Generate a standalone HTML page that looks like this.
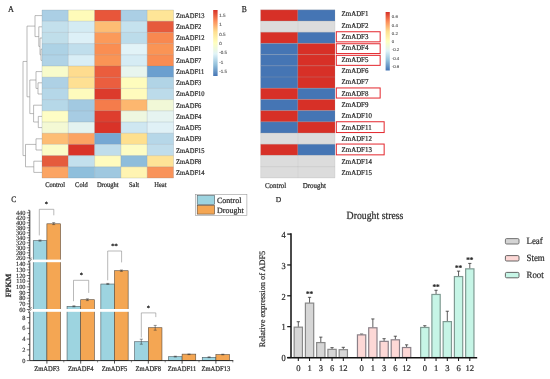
<!DOCTYPE html>
<html><head><meta charset="utf-8"><title>Figure</title><style>
html,body{margin:0;padding:0;background:#fff;}
body{width:550px;height:379px;overflow:hidden;}
svg{display:block;will-change:transform;font-family:"Liberation Serif", serif;fill:#1a1a1a;}
text{text-rendering:geometricPrecision;}
svg{filter:blur(0.4px);}
</style></head><body>
<svg width="550" height="379" viewBox="0 0 550 379">
<rect width="550" height="379" fill="#fff"/>
<rect x="42.00" y="10.00" width="26.35" height="11.25" fill="#abcfe5"/>
<rect x="68.30" y="10.00" width="26.35" height="11.25" fill="#fefbb9"/>
<rect x="94.60" y="10.00" width="26.35" height="11.25" fill="#e8563a"/>
<rect x="120.90" y="10.00" width="26.35" height="11.25" fill="#abcfe5"/>
<rect x="147.20" y="10.00" width="26.35" height="11.25" fill="#fee597"/>
<rect x="42.00" y="21.20" width="26.35" height="11.25" fill="#c3e0ec"/>
<rect x="68.30" y="21.20" width="26.35" height="11.25" fill="#d4ebf3"/>
<rect x="94.60" y="21.20" width="26.35" height="11.25" fill="#fdbd74"/>
<rect x="120.90" y="21.20" width="26.35" height="11.25" fill="#c5e2ee"/>
<rect x="147.20" y="21.20" width="26.35" height="11.25" fill="#e65a3c"/>
<rect x="42.00" y="32.40" width="26.35" height="11.25" fill="#c0deea"/>
<rect x="68.30" y="32.40" width="26.35" height="11.25" fill="#ddf0f7"/>
<rect x="94.60" y="32.40" width="26.35" height="11.25" fill="#fb9a5a"/>
<rect x="120.90" y="32.40" width="26.35" height="11.25" fill="#bcdcea"/>
<rect x="147.20" y="32.40" width="26.35" height="11.25" fill="#f88850"/>
<rect x="42.00" y="43.60" width="26.35" height="11.25" fill="#add2e5"/>
<rect x="68.30" y="43.60" width="26.35" height="11.25" fill="#c0deec"/>
<rect x="94.60" y="43.60" width="26.35" height="11.25" fill="#fa8e52"/>
<rect x="120.90" y="43.60" width="26.35" height="11.25" fill="#e2f3f7"/>
<rect x="147.20" y="43.60" width="26.35" height="11.25" fill="#fa9455"/>
<rect x="42.00" y="54.80" width="26.35" height="11.25" fill="#b0d3e6"/>
<rect x="68.30" y="54.80" width="26.35" height="11.25" fill="#d9eef6"/>
<rect x="94.60" y="54.80" width="26.35" height="11.25" fill="#fa9455"/>
<rect x="120.90" y="54.80" width="26.35" height="11.25" fill="#d6ecf4"/>
<rect x="147.20" y="54.80" width="26.35" height="11.25" fill="#f98c52"/>
<rect x="42.00" y="66.00" width="26.35" height="11.25" fill="#f8fbcb"/>
<rect x="68.30" y="66.00" width="26.35" height="11.25" fill="#fedc8f"/>
<rect x="94.60" y="66.00" width="26.35" height="11.25" fill="#ea5d3d"/>
<rect x="120.90" y="66.00" width="26.35" height="11.25" fill="#e8f5ee"/>
<rect x="147.20" y="66.00" width="26.35" height="11.25" fill="#6b9fcf"/>
<rect x="42.00" y="77.20" width="26.35" height="11.25" fill="#aed1e5"/>
<rect x="68.30" y="77.20" width="26.35" height="11.25" fill="#fee093"/>
<rect x="94.60" y="77.20" width="26.35" height="11.25" fill="#eb5e3f"/>
<rect x="120.90" y="77.20" width="26.35" height="11.25" fill="#fefcbd"/>
<rect x="147.20" y="77.20" width="26.35" height="11.25" fill="#b1d4e6"/>
<rect x="42.00" y="88.40" width="26.35" height="11.25" fill="#b5d7e8"/>
<rect x="68.30" y="88.40" width="26.35" height="11.25" fill="#fefbbd"/>
<rect x="94.60" y="88.40" width="26.35" height="11.25" fill="#dc3b2c"/>
<rect x="120.90" y="88.40" width="26.35" height="11.25" fill="#fffbbd"/>
<rect x="147.20" y="88.40" width="26.35" height="11.25" fill="#bcdbea"/>
<rect x="42.00" y="99.60" width="26.35" height="11.25" fill="#b6d8e8"/>
<rect x="68.30" y="99.60" width="26.35" height="11.25" fill="#a2c9e1"/>
<rect x="94.60" y="99.60" width="26.35" height="11.25" fill="#f57c4b"/>
<rect x="120.90" y="99.60" width="26.35" height="11.25" fill="#fdb76f"/>
<rect x="147.20" y="99.60" width="26.35" height="11.25" fill="#f1f8d7"/>
<rect x="42.00" y="110.80" width="26.35" height="11.25" fill="#fefdc5"/>
<rect x="68.30" y="110.80" width="26.35" height="11.25" fill="#a7cce3"/>
<rect x="94.60" y="110.80" width="26.35" height="11.25" fill="#de3e2e"/>
<rect x="120.90" y="110.80" width="26.35" height="11.25" fill="#eef7e0"/>
<rect x="147.20" y="110.80" width="26.35" height="11.25" fill="#e6f4f1"/>
<rect x="42.00" y="122.00" width="26.35" height="11.25" fill="#f4f9d4"/>
<rect x="68.30" y="122.00" width="26.35" height="11.25" fill="#e4f3f0"/>
<rect x="94.60" y="122.00" width="26.35" height="11.25" fill="#d93328"/>
<rect x="120.90" y="122.00" width="26.35" height="11.25" fill="#cfe7f1"/>
<rect x="147.20" y="122.00" width="26.35" height="11.25" fill="#e0f1f6"/>
<rect x="42.00" y="133.20" width="26.35" height="11.25" fill="#fdbd74"/>
<rect x="68.30" y="133.20" width="26.35" height="11.25" fill="#fba363"/>
<rect x="94.60" y="133.20" width="26.35" height="11.25" fill="#76a8d3"/>
<rect x="120.90" y="133.20" width="26.35" height="11.25" fill="#fee08f"/>
<rect x="147.20" y="133.20" width="26.35" height="11.25" fill="#b6d7e8"/>
<rect x="42.00" y="144.40" width="26.35" height="11.25" fill="#fbfcc7"/>
<rect x="68.30" y="144.40" width="26.35" height="11.25" fill="#d93328"/>
<rect x="94.60" y="144.40" width="26.35" height="11.25" fill="#c0ddeb"/>
<rect x="120.90" y="144.40" width="26.35" height="11.25" fill="#fdfcc4"/>
<rect x="147.20" y="144.40" width="26.35" height="11.25" fill="#c0ddeb"/>
<rect x="42.00" y="155.60" width="26.35" height="11.25" fill="#e55b3d"/>
<rect x="68.30" y="155.60" width="26.35" height="11.25" fill="#c3e0ed"/>
<rect x="94.60" y="155.60" width="26.35" height="11.25" fill="#fffbbe"/>
<rect x="120.90" y="155.60" width="26.35" height="11.25" fill="#8ebddb"/>
<rect x="147.20" y="155.60" width="26.35" height="11.25" fill="#fee397"/>
<rect x="42.00" y="166.80" width="26.35" height="11.25" fill="#fba463"/>
<rect x="68.30" y="166.80" width="26.35" height="11.25" fill="#8fbfdc"/>
<rect x="94.60" y="166.80" width="26.35" height="11.25" fill="#9fc8e0"/>
<rect x="120.90" y="166.80" width="26.35" height="11.25" fill="#fff4b2"/>
<rect x="147.20" y="166.80" width="26.35" height="11.25" fill="#f9935a"/>
<path d="M42.00 10.00H173.50M42.00 21.20H173.50M42.00 32.40H173.50M42.00 43.60H173.50M42.00 54.80H173.50M42.00 66.00H173.50M42.00 77.20H173.50M42.00 88.40H173.50M42.00 99.60H173.50M42.00 110.80H173.50M42.00 122.00H173.50M42.00 133.20H173.50M42.00 144.40H173.50M42.00 155.60H173.50M42.00 166.80H173.50M42.00 178.00H173.50M42.00 10.00V178.00M68.30 10.00V178.00M94.60 10.00V178.00M120.90 10.00V178.00M147.20 10.00V178.00M173.50 10.00V178.00" stroke="#6f7f8a" stroke-opacity="0.35" stroke-width="0.6" fill="none"/>
<text transform="translate(176.00 17.80) scale(1.0 1.1)" font-size="6.5" fill="#2e2e2e" stroke="#2e2e2e" stroke-width="0.22">ZmADF13</text>
<text transform="translate(176.00 29.03) scale(1.0 1.1)" font-size="6.5" fill="#2e2e2e" stroke="#2e2e2e" stroke-width="0.22">ZmADF2</text>
<text transform="translate(176.00 40.26) scale(1.0 1.1)" font-size="6.5" fill="#2e2e2e" stroke="#2e2e2e" stroke-width="0.22">ZmADF12</text>
<text transform="translate(176.00 51.49) scale(1.0 1.1)" font-size="6.5" fill="#2e2e2e" stroke="#2e2e2e" stroke-width="0.22">ZmADF1</text>
<text transform="translate(176.00 62.72) scale(1.0 1.1)" font-size="6.5" fill="#2e2e2e" stroke="#2e2e2e" stroke-width="0.22">ZmADF7</text>
<text transform="translate(176.00 73.95) scale(1.0 1.1)" font-size="6.5" fill="#2e2e2e" stroke="#2e2e2e" stroke-width="0.22">ZmADF11</text>
<text transform="translate(176.00 85.18) scale(1.0 1.1)" font-size="6.5" fill="#2e2e2e" stroke="#2e2e2e" stroke-width="0.22">ZmADF3</text>
<text transform="translate(176.00 96.41) scale(1.0 1.1)" font-size="6.5" fill="#2e2e2e" stroke="#2e2e2e" stroke-width="0.22">ZmADF10</text>
<text transform="translate(176.00 107.64) scale(1.0 1.1)" font-size="6.5" fill="#2e2e2e" stroke="#2e2e2e" stroke-width="0.22">ZmADF6</text>
<text transform="translate(176.00 118.87) scale(1.0 1.1)" font-size="6.5" fill="#2e2e2e" stroke="#2e2e2e" stroke-width="0.22">ZmADF4</text>
<text transform="translate(176.00 130.10) scale(1.0 1.1)" font-size="6.5" fill="#2e2e2e" stroke="#2e2e2e" stroke-width="0.22">ZmADF5</text>
<text transform="translate(176.00 141.33) scale(1.0 1.1)" font-size="6.5" fill="#2e2e2e" stroke="#2e2e2e" stroke-width="0.22">ZmADF9</text>
<text transform="translate(176.00 152.56) scale(1.0 1.1)" font-size="6.5" fill="#2e2e2e" stroke="#2e2e2e" stroke-width="0.22">ZmADF15</text>
<text transform="translate(176.00 163.79) scale(1.0 1.1)" font-size="6.5" fill="#2e2e2e" stroke="#2e2e2e" stroke-width="0.22">ZmADF8</text>
<text transform="translate(176.00 175.02) scale(1.0 1.1)" font-size="6.5" fill="#2e2e2e" stroke="#2e2e2e" stroke-width="0.22">ZmADF14</text>
<text transform="translate(55.15 187.30) scale(1.0 1.1)" font-size="6.5" fill="#2e2e2e" stroke="#2e2e2e" stroke-width="0.22" text-anchor="middle">Control</text>
<text transform="translate(81.45 187.30) scale(1.0 1.1)" font-size="6.5" fill="#2e2e2e" stroke="#2e2e2e" stroke-width="0.22" text-anchor="middle">Cold</text>
<text transform="translate(107.75 187.30) scale(1.0 1.1)" font-size="6.5" fill="#2e2e2e" stroke="#2e2e2e" stroke-width="0.22" text-anchor="middle">Drought</text>
<text transform="translate(134.05 187.30) scale(1.0 1.1)" font-size="6.5" fill="#2e2e2e" stroke="#2e2e2e" stroke-width="0.22" text-anchor="middle">Salt</text>
<text transform="translate(160.35 187.30) scale(1.0 1.1)" font-size="6.5" fill="#2e2e2e" stroke="#2e2e2e" stroke-width="0.22" text-anchor="middle">Heat</text>
<path d="M42.00 49.20H41.00V60.40H42.00 M42.00 38.00H40.00V54.80H41.00 M42.00 26.80H38.80V46.40H40.00 M42.00 15.60H35.00V36.60H38.80 M42.00 82.80H38.00V94.00H42.00 M42.00 71.60H36.00V88.40H38.00 M42.00 116.40H38.30V127.60H42.00 M42.00 105.20H33.60V122.00H38.30 M36.00 80.00H29.80V113.60H33.60 M35.00 26.10H27.00V96.80H29.80 M42.00 138.80H36.00V150.00H42.00 M42.00 161.20H33.80V172.40H42.00 M36.00 144.40H25.50V166.80H33.80 M27.00 61.45H23.00V155.60H25.50" fill="none" stroke="#8c8c8c" stroke-width="0.6"/>
<defs><linearGradient id="gA" x1="0" y1="0" x2="0" y2="1"><stop offset="0" stop-color="#d73027"/><stop offset="0.1667" stop-color="#fc8d59"/><stop offset="0.3333" stop-color="#fee090"/><stop offset="0.5" stop-color="#ffffbf"/><stop offset="0.6667" stop-color="#e0f3f8"/><stop offset="0.8333" stop-color="#91bfdb"/><stop offset="1" stop-color="#4575b4"/></linearGradient><linearGradient id="gB" x1="0" y1="0" x2="0" y2="1"><stop offset="0" stop-color="#d73027"/><stop offset="0.1667" stop-color="#fc8d59"/><stop offset="0.3333" stop-color="#fee090"/><stop offset="0.5" stop-color="#ffffbf"/><stop offset="0.6667" stop-color="#e0f3f8"/><stop offset="0.8333" stop-color="#91bfdb"/><stop offset="1" stop-color="#4575b4"/></linearGradient></defs>
<rect x="213.2" y="10" width="4.4" height="66" fill="url(#gA)"/>
<text x="219.20" y="17.00" font-size="4.5" fill="#555" stroke="#555" stroke-width="0.12" font-family='"Liberation Sans", sans-serif'>1.5</text>
<text x="219.20" y="26.30" font-size="4.5" fill="#555" stroke="#555" stroke-width="0.12" font-family='"Liberation Sans", sans-serif'>1</text>
<text x="219.20" y="35.60" font-size="4.5" fill="#555" stroke="#555" stroke-width="0.12" font-family='"Liberation Sans", sans-serif'>0.5</text>
<text x="219.20" y="44.90" font-size="4.5" fill="#555" stroke="#555" stroke-width="0.12" font-family='"Liberation Sans", sans-serif'>0</text>
<text x="219.20" y="54.20" font-size="4.5" fill="#555" stroke="#555" stroke-width="0.12" font-family='"Liberation Sans", sans-serif'>-0.5</text>
<text x="219.20" y="63.50" font-size="4.5" fill="#555" stroke="#555" stroke-width="0.12" font-family='"Liberation Sans", sans-serif'>-1</text>
<text x="219.20" y="72.80" font-size="4.5" fill="#555" stroke="#555" stroke-width="0.12" font-family='"Liberation Sans", sans-serif'>-1.5</text>
<rect x="260.60" y="9.80" width="37.25" height="11.25" fill="#d73027"/>
<rect x="297.80" y="9.80" width="37.20" height="11.25" fill="#4575b4"/>
<rect x="260.60" y="21.00" width="37.25" height="11.25" fill="#dcdcdc"/>
<rect x="297.80" y="21.00" width="37.20" height="11.25" fill="#dcdcdc"/>
<rect x="260.60" y="32.20" width="37.25" height="11.25" fill="#d73027"/>
<rect x="297.80" y="32.20" width="37.20" height="11.25" fill="#4575b4"/>
<rect x="260.60" y="43.40" width="37.25" height="11.25" fill="#4575b4"/>
<rect x="297.80" y="43.40" width="37.20" height="11.25" fill="#d73027"/>
<rect x="260.60" y="54.60" width="37.25" height="11.25" fill="#4575b4"/>
<rect x="297.80" y="54.60" width="37.20" height="11.25" fill="#d73027"/>
<rect x="260.60" y="65.80" width="37.25" height="11.25" fill="#4575b4"/>
<rect x="297.80" y="65.80" width="37.20" height="11.25" fill="#d73027"/>
<rect x="260.60" y="77.00" width="37.25" height="11.25" fill="#4575b4"/>
<rect x="297.80" y="77.00" width="37.20" height="11.25" fill="#d73027"/>
<rect x="260.60" y="88.20" width="37.25" height="11.25" fill="#d73027"/>
<rect x="297.80" y="88.20" width="37.20" height="11.25" fill="#4575b4"/>
<rect x="260.60" y="99.40" width="37.25" height="11.25" fill="#4575b4"/>
<rect x="297.80" y="99.40" width="37.20" height="11.25" fill="#d73027"/>
<rect x="260.60" y="110.60" width="37.25" height="11.25" fill="#d73027"/>
<rect x="297.80" y="110.60" width="37.20" height="11.25" fill="#4575b4"/>
<rect x="260.60" y="121.80" width="37.25" height="11.25" fill="#4575b4"/>
<rect x="297.80" y="121.80" width="37.20" height="11.25" fill="#d73027"/>
<rect x="260.60" y="133.00" width="37.25" height="11.25" fill="#dcdcdc"/>
<rect x="297.80" y="133.00" width="37.20" height="11.25" fill="#dcdcdc"/>
<rect x="260.60" y="144.20" width="37.25" height="11.25" fill="#d73027"/>
<rect x="297.80" y="144.20" width="37.20" height="11.25" fill="#4575b4"/>
<rect x="260.60" y="155.40" width="37.25" height="11.25" fill="#dcdcdc"/>
<rect x="297.80" y="155.40" width="37.20" height="11.25" fill="#dcdcdc"/>
<rect x="260.60" y="166.60" width="37.25" height="11.25" fill="#dcdcdc"/>
<rect x="297.80" y="166.60" width="37.20" height="11.25" fill="#dcdcdc"/>
<path d="M260.60 9.80H335.00M260.60 21.00H335.00M260.60 32.20H335.00M260.60 43.40H335.00M260.60 54.60H335.00M260.60 65.80H335.00M260.60 77.00H335.00M260.60 88.20H335.00M260.60 99.40H335.00M260.60 110.60H335.00M260.60 121.80H335.00M260.60 133.00H335.00M260.60 144.20H335.00M260.60 155.40H335.00M260.60 166.60H335.00M260.60 177.80H335.00" stroke="#a0a0a0" stroke-opacity="0.5" stroke-width="0.6" fill="none"/>
<path d="M260.60 9.80V177.80M297.80 9.80V177.80M335.00 9.80V177.80" stroke="#a0a0a0" stroke-opacity="0.3" stroke-width="0.6" fill="none"/>
<text transform="translate(341.60 16.40) scale(1.0 1.08)" font-size="6.9" fill="#2e2e2e" stroke="#2e2e2e" stroke-width="0.22">ZmADF1</text>
<text transform="translate(341.60 27.74) scale(1.0 1.08)" font-size="6.9" fill="#2e2e2e" stroke="#2e2e2e" stroke-width="0.22">ZmADF2</text>
<text transform="translate(341.60 39.08) scale(1.0 1.08)" font-size="6.9" fill="#2e2e2e" stroke="#2e2e2e" stroke-width="0.22">ZmADF3</text>
<text transform="translate(341.60 50.42) scale(1.0 1.08)" font-size="6.9" fill="#2e2e2e" stroke="#2e2e2e" stroke-width="0.22">ZmADF4</text>
<text transform="translate(341.60 61.76) scale(1.0 1.08)" font-size="6.9" fill="#2e2e2e" stroke="#2e2e2e" stroke-width="0.22">ZmADF5</text>
<text transform="translate(341.60 73.10) scale(1.0 1.08)" font-size="6.9" fill="#2e2e2e" stroke="#2e2e2e" stroke-width="0.22">ZmADF6</text>
<text transform="translate(341.60 84.44) scale(1.0 1.08)" font-size="6.9" fill="#2e2e2e" stroke="#2e2e2e" stroke-width="0.22">ZmADF7</text>
<text transform="translate(341.60 95.78) scale(1.0 1.08)" font-size="6.9" fill="#2e2e2e" stroke="#2e2e2e" stroke-width="0.22">ZmADF8</text>
<text transform="translate(341.60 107.12) scale(1.0 1.08)" font-size="6.9" fill="#2e2e2e" stroke="#2e2e2e" stroke-width="0.22">ZmADF9</text>
<text transform="translate(341.60 118.46) scale(1.0 1.08)" font-size="6.9" fill="#2e2e2e" stroke="#2e2e2e" stroke-width="0.22">ZmADF10</text>
<text transform="translate(341.60 129.80) scale(1.0 1.08)" font-size="6.9" fill="#2e2e2e" stroke="#2e2e2e" stroke-width="0.22">ZmADF11</text>
<text transform="translate(341.60 141.14) scale(1.0 1.08)" font-size="6.9" fill="#2e2e2e" stroke="#2e2e2e" stroke-width="0.22">ZmADF12</text>
<text transform="translate(341.60 152.48) scale(1.0 1.08)" font-size="6.9" fill="#2e2e2e" stroke="#2e2e2e" stroke-width="0.22">ZmADF13</text>
<text transform="translate(341.60 163.82) scale(1.0 1.08)" font-size="6.9" fill="#2e2e2e" stroke="#2e2e2e" stroke-width="0.22">ZmADF14</text>
<text transform="translate(341.60 175.16) scale(1.0 1.08)" font-size="6.9" fill="#2e2e2e" stroke="#2e2e2e" stroke-width="0.22">ZmADF15</text>
<rect x="336.3" y="31.75" width="43.85" height="10.10" fill="none" stroke="#e3262c" stroke-width="1.0"/>
<rect x="336.3" y="43.75" width="43.85" height="9.80" fill="none" stroke="#e3262c" stroke-width="1.0"/>
<rect x="336.3" y="55.35" width="43.85" height="10.00" fill="none" stroke="#e3262c" stroke-width="1.0"/>
<rect x="336.3" y="87.95" width="43.85" height="10.10" fill="none" stroke="#e3262c" stroke-width="1.0"/>
<rect x="336.3" y="121.75" width="47.85" height="10.80" fill="none" stroke="#e3262c" stroke-width="1.0"/>
<rect x="336.3" y="144.05" width="47.85" height="10.80" fill="none" stroke="#e3262c" stroke-width="1.0"/>
<text transform="translate(275.60 188.00) scale(1.0 1.08)" font-size="7.0" fill="#2e2e2e" stroke="#2e2e2e" stroke-width="0.22" text-anchor="middle">Control</text>
<text transform="translate(314.30 188.00) scale(1.0 1.08)" font-size="7.0" fill="#2e2e2e" stroke="#2e2e2e" stroke-width="0.22" text-anchor="middle">Drought</text>
<rect x="385.6" y="12" width="4.2" height="58.5" fill="url(#gB)"/>
<text x="391.80" y="18.00" font-size="4.3" fill="#555" stroke="#555" stroke-width="0.12" font-family='"Liberation Sans", sans-serif'>0.6</text>
<text x="391.80" y="26.50" font-size="4.3" fill="#555" stroke="#555" stroke-width="0.12" font-family='"Liberation Sans", sans-serif'>0.4</text>
<text x="391.80" y="34.80" font-size="4.3" fill="#555" stroke="#555" stroke-width="0.12" font-family='"Liberation Sans", sans-serif'>0.2</text>
<text x="391.80" y="43.00" font-size="4.3" fill="#555" stroke="#555" stroke-width="0.12" font-family='"Liberation Sans", sans-serif'>0</text>
<text x="391.80" y="51.30" font-size="4.3" fill="#555" stroke="#555" stroke-width="0.12" font-family='"Liberation Sans", sans-serif'>-0.2</text>
<text x="391.80" y="59.60" font-size="4.3" fill="#555" stroke="#555" stroke-width="0.12" font-family='"Liberation Sans", sans-serif'>-0.4</text>
<text x="391.80" y="67.80" font-size="4.3" fill="#555" stroke="#555" stroke-width="0.12" font-family='"Liberation Sans", sans-serif'>-0.6</text>
<text transform="translate(7.90 11.80) scale(1.0 1.1)" font-size="8.2" fill="#2e2e2e" stroke="#2e2e2e" stroke-width="0.22">A</text>
<text transform="translate(241.70 11.90) scale(1.0 1.2)" font-size="7.6" fill="#2e2e2e" stroke="#2e2e2e" stroke-width="0.22">B</text>
<text transform="translate(11.30 201.70) scale(1.0 1.1)" font-size="7.6" fill="#2e2e2e" stroke="#2e2e2e" stroke-width="0.22">C</text>
<text x="275.70" y="201.60" font-size="7.6" fill="#2e2e2e" stroke="#2e2e2e" stroke-width="0.22">D</text>
<rect x="33.25" y="240.70" width="13.65" height="119.90" fill="#9dd4e0" stroke="#4a5a60" stroke-width="0.6"/>
<rect x="46.90" y="223.80" width="13.65" height="136.80" fill="#f4a653" stroke="#5a4a3a" stroke-width="0.6"/>
<text transform="translate(46.90 371.20) scale(1.0 1.1)" font-size="6.55" fill="#2e2e2e" stroke="#2e2e2e" stroke-width="0.22" text-anchor="middle">ZmADF3</text>
<line x1="46.90" y1="360.6" x2="46.90" y2="363.6" stroke="#222" stroke-width="0.8"/>
<rect x="67.05" y="306.39" width="13.65" height="54.21" fill="#9dd4e0" stroke="#4a5a60" stroke-width="0.6"/>
<rect x="80.70" y="299.71" width="13.65" height="60.89" fill="#f4a653" stroke="#5a4a3a" stroke-width="0.6"/>
<text transform="translate(80.70 371.20) scale(1.0 1.1)" font-size="6.55" fill="#2e2e2e" stroke="#2e2e2e" stroke-width="0.22" text-anchor="middle">ZmADF4</text>
<line x1="80.70" y1="360.6" x2="80.70" y2="363.6" stroke="#222" stroke-width="0.8"/>
<rect x="100.85" y="284.03" width="13.65" height="76.57" fill="#9dd4e0" stroke="#4a5a60" stroke-width="0.6"/>
<rect x="114.50" y="270.73" width="13.65" height="89.87" fill="#f4a653" stroke="#5a4a3a" stroke-width="0.6"/>
<text transform="translate(114.50 371.20) scale(1.0 1.1)" font-size="6.55" fill="#2e2e2e" stroke="#2e2e2e" stroke-width="0.22" text-anchor="middle">ZmADF5</text>
<line x1="114.50" y1="360.6" x2="114.50" y2="363.6" stroke="#222" stroke-width="0.8"/>
<rect x="134.65" y="341.74" width="13.65" height="18.87" fill="#9dd4e0" stroke="#4a5a60" stroke-width="0.6"/>
<rect x="148.30" y="327.72" width="13.65" height="32.88" fill="#f4a653" stroke="#5a4a3a" stroke-width="0.6"/>
<text transform="translate(148.30 371.20) scale(1.0 1.1)" font-size="6.55" fill="#2e2e2e" stroke="#2e2e2e" stroke-width="0.22" text-anchor="middle">ZmADF8</text>
<line x1="148.30" y1="360.6" x2="148.30" y2="363.6" stroke="#222" stroke-width="0.8"/>
<rect x="168.45" y="356.72" width="13.65" height="3.88" fill="#9dd4e0" stroke="#4a5a60" stroke-width="0.6"/>
<rect x="182.10" y="354.13" width="13.65" height="6.47" fill="#f4a653" stroke="#5a4a3a" stroke-width="0.6"/>
<text transform="translate(182.10 371.20) scale(1.0 1.1)" font-size="6.55" fill="#2e2e2e" stroke="#2e2e2e" stroke-width="0.22" text-anchor="middle">ZmADF11</text>
<line x1="182.10" y1="360.6" x2="182.10" y2="363.6" stroke="#222" stroke-width="0.8"/>
<rect x="202.25" y="357.37" width="13.65" height="3.23" fill="#9dd4e0" stroke="#4a5a60" stroke-width="0.6"/>
<rect x="215.90" y="354.67" width="13.65" height="5.93" fill="#f4a653" stroke="#5a4a3a" stroke-width="0.6"/>
<text transform="translate(215.90 371.20) scale(1.0 1.1)" font-size="6.55" fill="#2e2e2e" stroke="#2e2e2e" stroke-width="0.22" text-anchor="middle">ZmADF13</text>
<line x1="215.90" y1="360.6" x2="215.90" y2="363.6" stroke="#222" stroke-width="0.8"/>
<path d="M52.20 222.60H55.20M53.70 222.60V224.60M52.20 224.60H55.20" stroke="#333" stroke-width="0.5" fill="none"/>
<path d="M85.90 298.80H88.90M87.40 298.80V300.60M85.90 300.60H88.90" stroke="#333" stroke-width="0.5" fill="none"/>
<path d="M119.90 270.00H122.90M121.40 270.00V271.40M119.90 271.40H122.90" stroke="#333" stroke-width="0.5" fill="none"/>
<path d="M139.80 339.20H142.80M141.30 339.20V344.20M139.80 344.20H142.80" stroke="#333" stroke-width="0.5" fill="none"/>
<path d="M153.70 325.40H156.70M155.20 325.40V330.20M153.70 330.20H156.70" stroke="#333" stroke-width="0.5" fill="none"/>
<path d="M187.50 354.00H190.50M189.00 354.00V354.60M187.50 354.60H190.50" stroke="#333" stroke-width="0.5" fill="none"/>
<path d="M221.30 354.20H224.30M222.80 354.20V354.80M221.30 354.80H224.30" stroke="#333" stroke-width="0.5" fill="none"/>
<path d="M173.80 356.20H176.80M175.30 356.20V357.00M173.80 357.00H176.80" stroke="#333" stroke-width="0.5" fill="none"/>
<path d="M207.60 356.80H210.60M209.10 356.80V357.60M207.60 357.60H210.60" stroke="#333" stroke-width="0.5" fill="none"/>
<path d="M38.50 240.00H41.50M40.00 240.00V241.20M38.50 241.20H41.50" stroke="#333" stroke-width="0.5" fill="none"/>
<path d="M72.40 305.80H75.40M73.90 305.80V306.80M72.40 306.80H75.40" stroke="#333" stroke-width="0.5" fill="none"/>
<path d="M106.30 283.40H109.30M107.80 283.40V284.40M106.30 284.40H109.30" stroke="#333" stroke-width="0.5" fill="none"/>
<rect x="31" y="259.6" width="205" height="2.6" fill="#fff"/>
<rect x="31" y="309.0" width="205" height="2.8" fill="#fff"/>
<path d="M29.8 210.5V259.2M29.8 262.4V308.6M29.8 312.2V360.6H233.3" stroke="#1a1a1a" stroke-width="0.9" fill="none"/>
<path d="M63.80 360.6V362.4M97.60 360.6V362.4M131.40 360.6V362.4M165.20 360.6V362.4M199.00 360.6V362.4M232.80 360.6V362.4" stroke="#333" stroke-width="0.6" fill="none"/>
<path d="M28.4 261.6L31.6 257.6M28.4 263.2L31.6 259.2M28.4 311L31.6 307M28.4 312.8L31.6 308.8" stroke="#222" stroke-width="0.5" fill="none"/>
<path d="M26.80 257.80H29.8M28.00 255.30H29.8M26.80 252.80H29.8M28.00 250.30H29.8M26.80 247.80H29.8M28.00 245.30H29.8M26.80 242.80H29.8M28.00 240.30H29.8M26.80 237.80H29.8M28.00 235.30H29.8M26.80 232.80H29.8M28.00 230.30H29.8M26.80 227.80H29.8M28.00 225.30H29.8M26.80 222.80H29.8M28.00 220.30H29.8M26.80 217.80H29.8M28.00 215.30H29.8M26.80 212.80H29.8M28.00 210.30H29.8M26.80 309.50H29.8M28.00 306.67H29.8M26.80 303.84H29.8M28.00 301.01H29.8M26.80 298.18H29.8M28.00 295.35H29.8M26.80 292.52H29.8M28.00 289.69H29.8M26.80 286.86H29.8M28.00 284.03H29.8M26.80 281.20H29.8M28.00 278.37H29.8M26.80 275.54H29.8M28.00 272.71H29.8M26.80 269.88H29.8M28.00 267.05H29.8M26.80 264.22H29.8M28.00 261.39H29.8M26.80 360.60H29.8M28.00 355.21H29.8M26.80 349.82H29.8M28.00 344.43H29.8M26.80 339.04H29.8M28.00 333.65H29.8M26.80 328.26H29.8M28.00 322.87H29.8M26.80 317.48H29.8M28.00 312.09H29.8" stroke="#222" stroke-width="0.65" fill="none"/>
<text x="25.50" y="259.90" font-size="6.4" fill="#333" stroke="#333" stroke-width="0.15" text-anchor="end">260</text>
<text x="25.50" y="254.90" font-size="6.4" fill="#333" stroke="#333" stroke-width="0.15" text-anchor="end">280</text>
<text x="25.50" y="249.90" font-size="6.4" fill="#333" stroke="#333" stroke-width="0.15" text-anchor="end">300</text>
<text x="25.50" y="244.90" font-size="6.4" fill="#333" stroke="#333" stroke-width="0.15" text-anchor="end">320</text>
<text x="25.50" y="239.90" font-size="6.4" fill="#333" stroke="#333" stroke-width="0.15" text-anchor="end">340</text>
<text x="25.50" y="234.90" font-size="6.4" fill="#333" stroke="#333" stroke-width="0.15" text-anchor="end">360</text>
<text x="25.50" y="229.90" font-size="6.4" fill="#333" stroke="#333" stroke-width="0.15" text-anchor="end">380</text>
<text x="25.50" y="224.90" font-size="6.4" fill="#333" stroke="#333" stroke-width="0.15" text-anchor="end">400</text>
<text x="25.50" y="219.90" font-size="6.4" fill="#333" stroke="#333" stroke-width="0.15" text-anchor="end">420</text>
<text x="25.50" y="214.90" font-size="6.4" fill="#333" stroke="#333" stroke-width="0.15" text-anchor="end">440</text>
<text x="25.50" y="311.60" font-size="6.3" fill="#333" stroke="#333" stroke-width="0.15" text-anchor="end">60</text>
<text x="25.50" y="305.94" font-size="6.3" fill="#333" stroke="#333" stroke-width="0.15" text-anchor="end">70</text>
<text x="25.50" y="300.28" font-size="6.3" fill="#333" stroke="#333" stroke-width="0.15" text-anchor="end">80</text>
<text x="25.50" y="294.62" font-size="6.3" fill="#333" stroke="#333" stroke-width="0.15" text-anchor="end">90</text>
<text x="25.50" y="288.96" font-size="6.3" fill="#333" stroke="#333" stroke-width="0.15" text-anchor="end">100</text>
<text x="25.50" y="283.30" font-size="6.3" fill="#333" stroke="#333" stroke-width="0.15" text-anchor="end">110</text>
<text x="25.50" y="277.64" font-size="6.3" fill="#333" stroke="#333" stroke-width="0.15" text-anchor="end">120</text>
<text x="25.50" y="271.98" font-size="6.3" fill="#333" stroke="#333" stroke-width="0.15" text-anchor="end">130</text>
<text x="25.50" y="266.32" font-size="6.3" fill="#333" stroke="#333" stroke-width="0.15" text-anchor="end">140</text>
<text x="25.50" y="362.70" font-size="6.3" fill="#333" stroke="#333" stroke-width="0.15" text-anchor="end">0</text>
<text x="25.50" y="351.92" font-size="6.3" fill="#333" stroke="#333" stroke-width="0.15" text-anchor="end">2</text>
<text x="25.50" y="341.14" font-size="6.3" fill="#333" stroke="#333" stroke-width="0.15" text-anchor="end">4</text>
<text x="25.50" y="330.36" font-size="6.3" fill="#333" stroke="#333" stroke-width="0.15" text-anchor="end">6</text>
<text x="25.50" y="319.58" font-size="6.3" fill="#333" stroke="#333" stroke-width="0.15" text-anchor="end">8</text>
<text transform="translate(11.20 285.50) rotate(-90)" font-size="8" fill="#2e2e2e" stroke="#2e2e2e" stroke-width="0.22" text-anchor="middle" font-weight="bold">FPKM</text>
<path d="M39.3 235.4V209.3H53.8V215.3" stroke="#8a8a8a" stroke-width="0.6" fill="none"/>
<text x="46.50" y="205.50" font-size="6.6" fill="#2e2e2e" stroke="#2e2e2e" stroke-width="0.3" text-anchor="middle">*</text>
<path d="M73.5 301.2V280.3H88.7V292.9" stroke="#8a8a8a" stroke-width="0.6" fill="none"/>
<text x="81.30" y="276.60" font-size="6.6" fill="#2e2e2e" stroke="#2e2e2e" stroke-width="0.3" text-anchor="middle">*</text>
<path d="M107.7 280.3V251.0H121.6V262.4" stroke="#8a8a8a" stroke-width="0.6" fill="none"/>
<text x="114.60" y="248.00" font-size="6.6" fill="#2e2e2e" stroke="#2e2e2e" stroke-width="0.3" text-anchor="middle">**</text>
<path d="M141.3 337.5V312.9H155.8V317.1" stroke="#8a8a8a" stroke-width="0.6" fill="none"/>
<text x="148.40" y="310.00" font-size="6.6" fill="#2e2e2e" stroke="#2e2e2e" stroke-width="0.3" text-anchor="middle">*</text>
<rect x="195.3" y="194.5" width="51.6" height="20.8" fill="#fff" stroke="#999" stroke-width="0.6"/>
<rect x="197.2" y="195.6" width="17.4" height="8.7" fill="#9dd4e0" stroke="#4a5a60" stroke-width="0.6"/>
<rect x="197.2" y="205.4" width="17.4" height="8.7" fill="#f4a653" stroke="#5a4a3a" stroke-width="0.6"/>
<text x="217.00" y="202.80" font-size="8" fill="#2e2e2e" stroke="#2e2e2e" stroke-width="0.22">Control</text>
<text x="217.00" y="212.60" font-size="8" fill="#2e2e2e" stroke="#2e2e2e" stroke-width="0.22">Drought</text>
<text transform="translate(375.00 218.60) scale(1.0 1.12)" font-size="9.8" fill="#2e2e2e" stroke="#2e2e2e" stroke-width="0.22" text-anchor="middle">Drought stress</text>
<text transform="translate(265.20 299.00) rotate(-90)" font-size="8.3" fill="#2e2e2e" stroke="#2e2e2e" stroke-width="0.22" text-anchor="middle">Relative expression of ADF5</text>
<path d="M298.30 326.96V321.71M296.70 321.71H299.90" stroke="#333" stroke-width="0.8" fill="none"/>
<rect x="294.15" y="327.16" width="8.3" height="30.34" fill="#d6d6d6" stroke="#888" stroke-width="1.2"/>
<line x1="298.30" y1="357.5" x2="298.30" y2="361" stroke="#111" stroke-width="1"/>
<text x="298.30" y="371.30" font-size="8.6" fill="#2e2e2e" stroke="#2e2e2e" stroke-width="0.22" text-anchor="middle">0</text>
<path d="M309.55 302.90V297.34M307.95 297.34H311.15" stroke="#333" stroke-width="0.8" fill="none"/>
<rect x="305.40" y="303.10" width="8.3" height="54.40" fill="#d6d6d6" stroke="#888" stroke-width="1.2"/>
<text x="309.55" y="296.34" font-size="7.2" fill="#2e2e2e" stroke="#2e2e2e" stroke-width="0.3" text-anchor="middle">**</text>
<line x1="309.55" y1="357.5" x2="309.55" y2="361" stroke="#111" stroke-width="1"/>
<text x="309.55" y="371.30" font-size="8.6" fill="#2e2e2e" stroke="#2e2e2e" stroke-width="0.22" text-anchor="middle">1</text>
<path d="M320.80 342.38V337.14M319.20 337.14H322.40" stroke="#333" stroke-width="0.8" fill="none"/>
<rect x="316.65" y="342.58" width="8.3" height="14.92" fill="#d6d6d6" stroke="#888" stroke-width="1.2"/>
<line x1="320.80" y1="357.5" x2="320.80" y2="361" stroke="#111" stroke-width="1"/>
<text x="320.80" y="371.30" font-size="8.6" fill="#2e2e2e" stroke="#2e2e2e" stroke-width="0.22" text-anchor="middle">3</text>
<path d="M332.05 349.17V347.63M330.45 347.63H333.65" stroke="#333" stroke-width="0.8" fill="none"/>
<rect x="327.90" y="349.37" width="8.3" height="8.13" fill="#d6d6d6" stroke="#888" stroke-width="1.2"/>
<line x1="332.05" y1="357.5" x2="332.05" y2="361" stroke="#111" stroke-width="1"/>
<text x="332.05" y="371.30" font-size="8.6" fill="#2e2e2e" stroke="#2e2e2e" stroke-width="0.22" text-anchor="middle">6</text>
<path d="M343.30 349.48V347.32M341.70 347.32H344.90" stroke="#333" stroke-width="0.8" fill="none"/>
<rect x="339.15" y="349.68" width="8.3" height="7.82" fill="#d6d6d6" stroke="#888" stroke-width="1.2"/>
<line x1="343.30" y1="357.5" x2="343.30" y2="361" stroke="#111" stroke-width="1"/>
<text x="343.30" y="371.30" font-size="8.6" fill="#2e2e2e" stroke="#2e2e2e" stroke-width="0.22" text-anchor="middle">12</text>
<path d="M361.60 334.67V334.05M360.00 334.05H363.20" stroke="#333" stroke-width="0.8" fill="none"/>
<rect x="357.45" y="334.87" width="8.3" height="22.63" fill="#fdd8d6" stroke="#8a8088" stroke-width="1.2"/>
<line x1="361.60" y1="357.5" x2="361.60" y2="361" stroke="#111" stroke-width="1"/>
<text x="361.60" y="371.30" font-size="8.6" fill="#2e2e2e" stroke="#2e2e2e" stroke-width="0.22" text-anchor="middle">0</text>
<path d="M372.85 327.58V318.94M371.25 318.94H374.45" stroke="#333" stroke-width="0.8" fill="none"/>
<rect x="368.70" y="327.78" width="8.3" height="29.72" fill="#fdd8d6" stroke="#8a8088" stroke-width="1.2"/>
<line x1="372.85" y1="357.5" x2="372.85" y2="361" stroke="#111" stroke-width="1"/>
<text x="372.85" y="371.30" font-size="8.6" fill="#2e2e2e" stroke="#2e2e2e" stroke-width="0.22" text-anchor="middle">1</text>
<path d="M384.10 341.15V338.68M382.50 338.68H385.70" stroke="#333" stroke-width="0.8" fill="none"/>
<rect x="379.95" y="341.35" width="8.3" height="16.15" fill="#fdd8d6" stroke="#8a8088" stroke-width="1.2"/>
<line x1="384.10" y1="357.5" x2="384.10" y2="361" stroke="#111" stroke-width="1"/>
<text x="384.10" y="371.30" font-size="8.6" fill="#2e2e2e" stroke="#2e2e2e" stroke-width="0.22" text-anchor="middle">3</text>
<path d="M395.35 339.61V336.21M393.75 336.21H396.95" stroke="#333" stroke-width="0.8" fill="none"/>
<rect x="391.20" y="339.81" width="8.3" height="17.69" fill="#fdd8d6" stroke="#8a8088" stroke-width="1.2"/>
<line x1="395.35" y1="357.5" x2="395.35" y2="361" stroke="#111" stroke-width="1"/>
<text x="395.35" y="371.30" font-size="8.6" fill="#2e2e2e" stroke="#2e2e2e" stroke-width="0.22" text-anchor="middle">6</text>
<path d="M406.60 347.32V344.85M405.00 344.85H408.20" stroke="#333" stroke-width="0.8" fill="none"/>
<rect x="402.45" y="347.52" width="8.3" height="9.98" fill="#fdd8d6" stroke="#8a8088" stroke-width="1.2"/>
<line x1="406.60" y1="357.5" x2="406.60" y2="361" stroke="#111" stroke-width="1"/>
<text x="406.60" y="371.30" font-size="8.6" fill="#2e2e2e" stroke="#2e2e2e" stroke-width="0.22" text-anchor="middle">12</text>
<path d="M424.80 327.27V325.72M423.20 325.72H426.40" stroke="#333" stroke-width="0.8" fill="none"/>
<rect x="420.65" y="327.47" width="8.3" height="30.03" fill="#c6f5e6" stroke="#7f9a92" stroke-width="1.2"/>
<line x1="424.80" y1="357.5" x2="424.80" y2="361" stroke="#111" stroke-width="1"/>
<text x="424.80" y="371.30" font-size="8.6" fill="#2e2e2e" stroke="#2e2e2e" stroke-width="0.22" text-anchor="middle">0</text>
<path d="M436.05 294.26V290.25M434.45 290.25H437.65" stroke="#333" stroke-width="0.8" fill="none"/>
<rect x="431.90" y="294.46" width="8.3" height="63.04" fill="#c6f5e6" stroke="#7f9a92" stroke-width="1.2"/>
<text x="436.05" y="289.25" font-size="7.2" fill="#2e2e2e" stroke="#2e2e2e" stroke-width="0.3" text-anchor="middle">**</text>
<line x1="436.05" y1="357.5" x2="436.05" y2="361" stroke="#111" stroke-width="1"/>
<text x="436.05" y="371.30" font-size="8.6" fill="#2e2e2e" stroke="#2e2e2e" stroke-width="0.22" text-anchor="middle">1</text>
<path d="M447.30 321.41V311.23M445.70 311.23H448.90" stroke="#333" stroke-width="0.8" fill="none"/>
<rect x="443.15" y="321.61" width="8.3" height="35.89" fill="#c6f5e6" stroke="#7f9a92" stroke-width="1.2"/>
<line x1="447.30" y1="357.5" x2="447.30" y2="361" stroke="#111" stroke-width="1"/>
<text x="447.30" y="371.30" font-size="8.6" fill="#2e2e2e" stroke="#2e2e2e" stroke-width="0.22" text-anchor="middle">3</text>
<path d="M458.55 276.36V271.12M456.95 271.12H460.15" stroke="#333" stroke-width="0.8" fill="none"/>
<rect x="454.40" y="276.56" width="8.3" height="80.94" fill="#c6f5e6" stroke="#7f9a92" stroke-width="1.2"/>
<text x="458.55" y="270.12" font-size="7.2" fill="#2e2e2e" stroke="#2e2e2e" stroke-width="0.3" text-anchor="middle">**</text>
<line x1="458.55" y1="357.5" x2="458.55" y2="361" stroke="#111" stroke-width="1"/>
<text x="458.55" y="371.30" font-size="8.6" fill="#2e2e2e" stroke="#2e2e2e" stroke-width="0.22" text-anchor="middle">6</text>
<path d="M469.80 268.65V263.41M468.20 263.41H471.40" stroke="#333" stroke-width="0.8" fill="none"/>
<rect x="465.65" y="268.85" width="8.3" height="88.65" fill="#c6f5e6" stroke="#7f9a92" stroke-width="1.2"/>
<text x="469.80" y="262.41" font-size="7.2" fill="#2e2e2e" stroke="#2e2e2e" stroke-width="0.3" text-anchor="middle">**</text>
<line x1="469.80" y1="357.5" x2="469.80" y2="361" stroke="#111" stroke-width="1"/>
<text x="469.80" y="371.30" font-size="8.6" fill="#2e2e2e" stroke="#2e2e2e" stroke-width="0.22" text-anchor="middle">12</text>
<path d="M291 233.2V357.8M287.2 357.8H477.2" stroke="#111" stroke-width="1.5" fill="none"/>
<line x1="287.2" y1="357.50" x2="291" y2="357.50" stroke="#111" stroke-width="1.2"/>
<text transform="translate(285.60 361.20) scale(1.0 1.1)" font-size="8.4" fill="#2e2e2e" stroke="#2e2e2e" stroke-width="0.22" text-anchor="end">0</text>
<line x1="287.2" y1="326.65" x2="291" y2="326.65" stroke="#111" stroke-width="1.2"/>
<text transform="translate(285.60 330.35) scale(1.0 1.1)" font-size="8.4" fill="#2e2e2e" stroke="#2e2e2e" stroke-width="0.22" text-anchor="end">1</text>
<line x1="287.2" y1="295.80" x2="291" y2="295.80" stroke="#111" stroke-width="1.2"/>
<text transform="translate(285.60 299.50) scale(1.0 1.1)" font-size="8.4" fill="#2e2e2e" stroke="#2e2e2e" stroke-width="0.22" text-anchor="end">2</text>
<line x1="287.2" y1="264.95" x2="291" y2="264.95" stroke="#111" stroke-width="1.2"/>
<text transform="translate(285.60 268.65) scale(1.0 1.1)" font-size="8.4" fill="#2e2e2e" stroke="#2e2e2e" stroke-width="0.22" text-anchor="end">3</text>
<line x1="287.2" y1="234.10" x2="291" y2="234.10" stroke="#111" stroke-width="1.2"/>
<text transform="translate(285.60 237.80) scale(1.0 1.1)" font-size="8.4" fill="#2e2e2e" stroke="#2e2e2e" stroke-width="0.22" text-anchor="end">4</text>
<rect x="505.4" y="238.6" width="13.6" height="5.4" rx="1.2" fill="#d4d4d4" stroke="#666" stroke-width="0.9"/>
<text transform="translate(526.50 244.30) scale(1.0 1.08)" font-size="8.9" fill="#2e2e2e" stroke="#2e2e2e" stroke-width="0.22">Leaf</text>
<rect x="505.4" y="255.6" width="13.6" height="5.4" rx="1.2" fill="#fdd8d6" stroke="#555" stroke-width="0.9"/>
<text transform="translate(526.50 261.30) scale(1.0 1.08)" font-size="8.9" fill="#2e2e2e" stroke="#2e2e2e" stroke-width="0.22">Stem</text>
<rect x="505.4" y="272.4" width="13.6" height="5.4" rx="1.2" fill="#c6f5e6" stroke="#555" stroke-width="0.9"/>
<text transform="translate(526.50 278.10) scale(1.0 1.08)" font-size="8.9" fill="#2e2e2e" stroke="#2e2e2e" stroke-width="0.22">Root</text>
</svg></body></html>
